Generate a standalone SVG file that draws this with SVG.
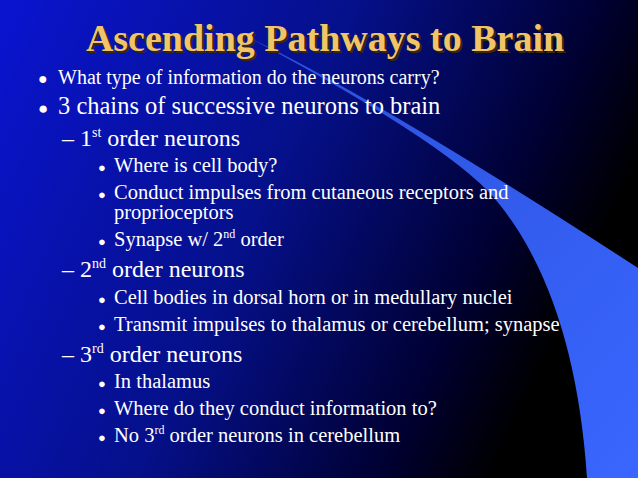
<svg xmlns="http://www.w3.org/2000/svg" width="638" height="478" viewBox="0 0 638 478">
<defs>
<linearGradient id="bg" x1="0" y1="0" x2="1" y2="0.35">
<stop offset="0" stop-color="#0a14d0"/><stop offset="0.5" stop-color="#05108a"/><stop offset="0.85" stop-color="#000030"/><stop offset="1" stop-color="#000000"/>
</linearGradient>
<linearGradient id="sw" x1="0" y1="0" x2="1" y2="1">
<stop offset="0" stop-color="#2a50d8"/><stop offset="1" stop-color="#3a66ff"/>
</linearGradient>
<style>
.t{font-family:"Liberation Serif",serif;fill:#fff}
.b{font-family:"Liberation Sans",sans-serif;fill:#fff}
.h{font-family:"Liberation Serif",serif;font-weight:bold;font-size:38px}
</style>
</defs>
<rect width="638" height="478" fill="url(#bg)"/>
<path d="M250,38 Q380,100 638,268 L638,478 L587,478 Q575,300 500,205 Q460,150 250,38 Z" fill="url(#sw)"/>
<g id="title">
<text class="h" x="327" y="53" text-anchor="middle" fill="#3a2a00">Ascending Pathways to Brain</text>
<text class="h" x="325" y="51" text-anchor="middle" fill="#f2c46a">Ascending Pathways to Brain</text>
</g>
<g id="body">
<text class="b" x="38" y="84" font-size="16">●</text>
<text class="t" x="58" y="84" font-size="20">What type of information do the neurons carry?</text>
<text class="b" x="38" y="114" font-size="17">●</text>
<text class="t" x="58" y="114" font-size="24.5">3 chains of successive neurons to brain</text>
<text class="t" x="62" y="146" font-size="24">– 1<tspan font-size="14" dy="-9">st</tspan><tspan dy="9"> order neurons</tspan></text>
<g font-size="20.5">
<text class="b" x="98" y="172" font-size="13">●</text><text class="t" x="114" y="172">Where is cell body?</text>
<text class="b" x="98" y="199" font-size="13">●</text><text class="t" x="114" y="199">Conduct impulses from cutaneous receptors and</text>
<text class="t" x="114" y="219">proprioceptors</text>
<text class="b" x="98" y="246" font-size="13">●</text><text class="t" x="114" y="246">Synapse w/ 2<tspan font-size="12" dy="-8">nd</tspan><tspan dy="8"> order</tspan></text>
</g>
<text class="t" x="62" y="277" font-size="24">– 2<tspan font-size="14" dy="-9">nd</tspan><tspan dy="9"> order neurons</tspan></text>
<g font-size="20.5">
<text class="b" x="98" y="304" font-size="13">●</text><text class="t" x="114" y="304">Cell bodies in dorsal horn or in medullary nuclei</text>
<text class="b" x="98" y="331" font-size="13">●</text><text class="t" x="114" y="331">Transmit impulses to thalamus or cerebellum; synapse</text>
</g>
<text class="t" x="62" y="362" font-size="24">– 3<tspan font-size="14" dy="-9">rd</tspan><tspan dy="9"> order neurons</tspan></text>
<g font-size="20.5">
<text class="b" x="98" y="388" font-size="13">●</text><text class="t" x="114" y="388">In thalamus</text>
<text class="b" x="98" y="415" font-size="13">●</text><text class="t" x="114" y="415">Where do they conduct information to?</text>
<text class="b" x="98" y="442" font-size="13">●</text><text class="t" x="114" y="442">No 3<tspan font-size="12" dy="-8">rd</tspan><tspan dy="8"> order neurons in cerebellum</tspan></text>
</g>
</g>
</svg>
